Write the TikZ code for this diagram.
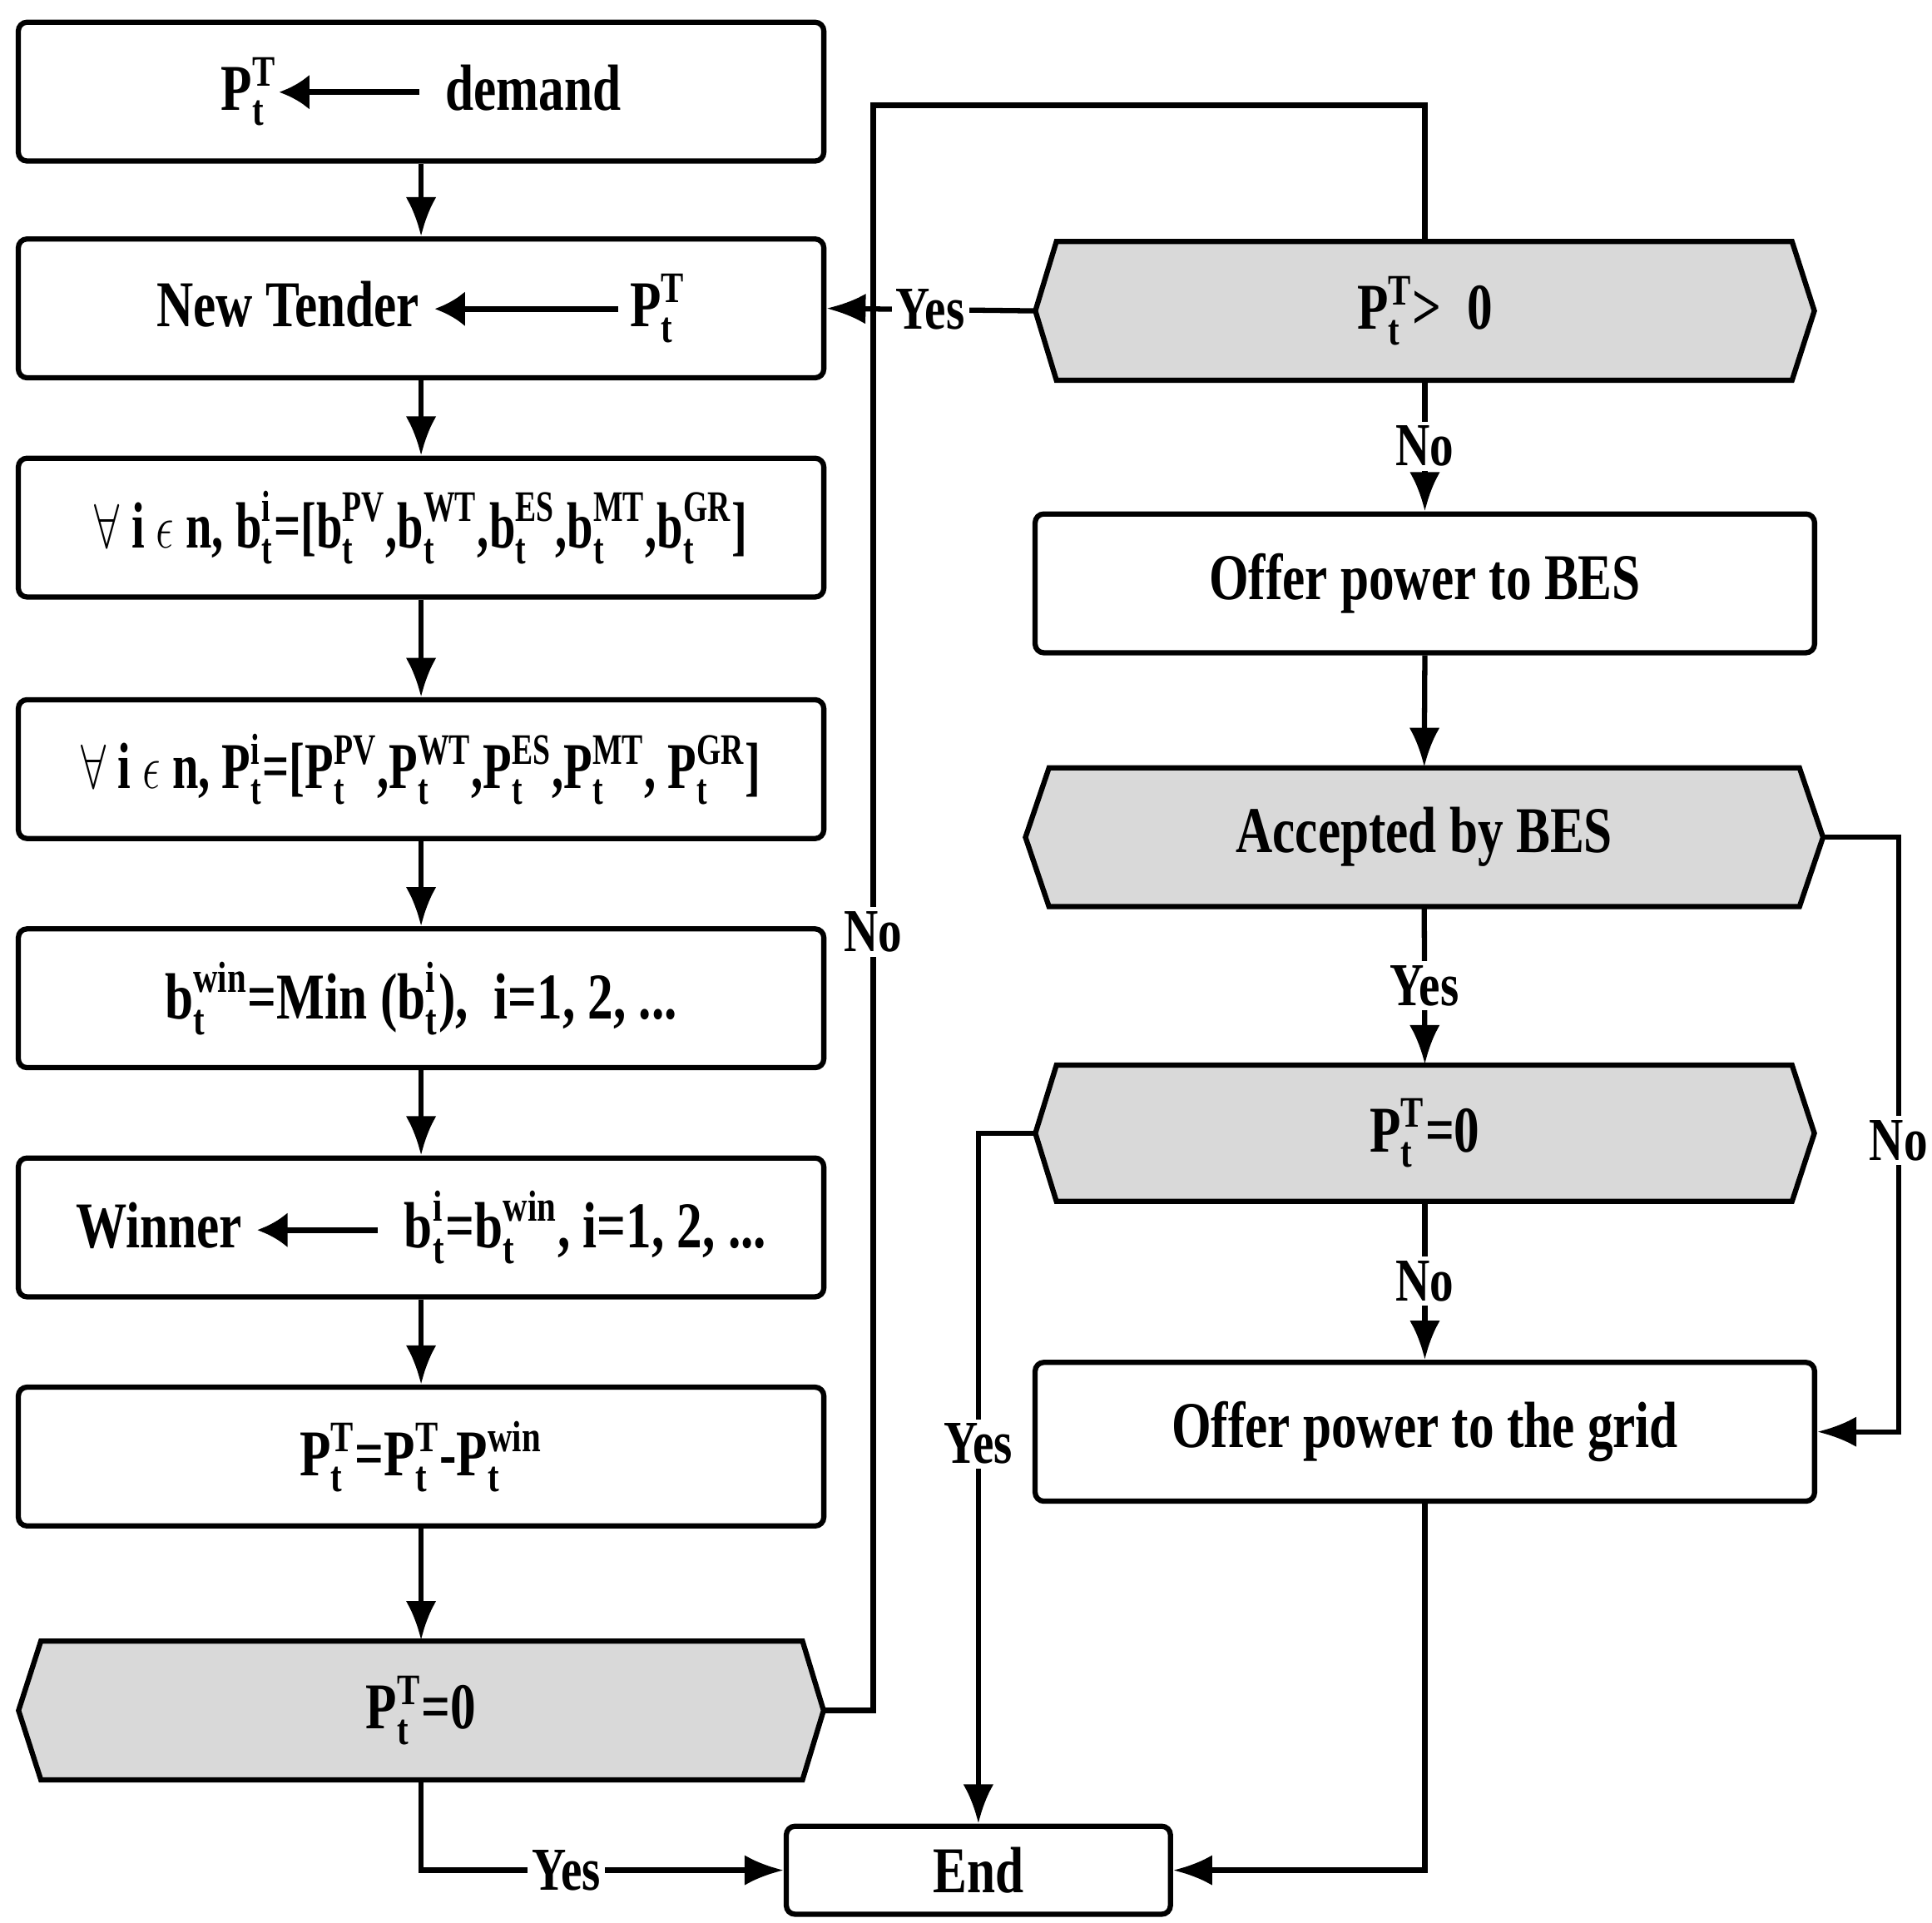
\documentclass[tikz,border=0pt]{standalone}
\usepackage{fontspec}
\setmainfont{Liberation Serif}
\usetikzlibrary{arrows.meta}
\newcommand{\cn}[1]{\scalebox{0.78}[1]{\bfseries #1}}
\newcommand{\cnn}[1]{\scalebox{0.72}[1]{\bfseries #1}}
\newcommand{\sm}[1]{\hbox{\fontsize{10}{10}\selectfont\bfseries #1}}
\newcommand{\vv}[3]{$\textbf{#1}_{\sm{#2}}^{\sm{#3}}$}
\newcommand{\inarrow}[1]{\tikz[baseline=-0.6ex,x=1cm,y=1cm]\draw[line width=1.4pt,-{Latex[length=9pt,width=8pt]}] (0,0)--(-#1,0);}
\begin{document}
\begin{tikzpicture}[x=0.01cm,y=-0.01cm,
  lw/.style={line width=1.2pt},
  box/.style={draw,lw,rounded corners=2pt,minimum width=6.5cm,minimum height=1.12cm,inner sep=0pt,font=\fontsize{15}{18}\selectfont},
  hx/.style={inner sep=0pt,font=\fontsize{15}{18}\selectfont},
  hexfill/.style={draw,lw,fill=gray!30,line join=miter},
  arr/.style={lw,-{Latex[length=9pt,width=7pt]}},
  lab/.style={fill=white,inner sep=1pt,font=\fontsize{14}{16}\selectfont}]
\useasboundingbox (0,0) rectangle (1560,1552);
% left column
\node[box] (b1) at (340,74) {\cn{\vv{P}{t}{T}\inarrow{1.45}\hspace{0.25cm}demand}};
\node[box] (b2) at (340,249) {\cn{New Tender \inarrow{1.9}\hspace{0.1cm}\vv{P}{t}{T}}};
\node[box] (b3) at (340,426) {\cnn{$\forall$ i $\epsilon$ n, \vv{b}{t}{i}=[\vv{b}{t}{PV},\vv{b}{t}{WT},\vv{b}{t}{ES},\vv{b}{t}{MT},\vv{b}{t}{GR}]}};
\node[box] (b4) at (340,621) {\cnn{$\forall$ i $\epsilon$ n, \vv{P}{t}{i}=[\vv{P}{t}{PV},\vv{P}{t}{WT},\vv{P}{t}{ES},\vv{P}{t}{MT}, \vv{P}{t}{GR}]}};
\node[box] (b5) at (340,806) {\cn{\vv{b}{t}{win}=Min (\vv{b}{t}{i}),\ \ i=1, 2, ...}};
\node[box] (b6) at (340,991) {\cn{Winner \inarrow{1.25}\hspace{0.25cm}\vv{b}{t}{i}=\vv{b}{t}{win}, i=1, 2, ...}};
\node[box] (b7) at (340,1176) {\cn{\vv{P}{t}{T}=\vv{P}{t}{T}-\vv{P}{t}{win}}};
\path[hexfill] (15,1381)--(33,1325)--(648,1325)--(665,1381)--(648,1437)--(33,1437)--cycle;
\node[hx,minimum width=6.5cm,minimum height=1.12cm] (h8) at (340,1381) {\cn{\vv{P}{t}{T}=0}};
% right column
\path[hexfill] (836,251)--(853,195)--(1447,195)--(1465,251)--(1447,307)--(853,307)--cycle;
\node[hx,minimum width=6.29cm,minimum height=1.12cm] (h1) at (1150.5,251) {\cn{\vv{P}{t}{T}> \ 0}};
\node[box,minimum width=6.29cm] (r2) at (1150.5,471) {\cn{Offer power to BES}};
\path[hexfill] (828,676)--(847,620)--(1453,620)--(1472,676)--(1453,732)--(847,732)--cycle;
\node[hx,minimum width=6.44cm,minimum height=1.12cm] (h3) at (1150,676) {\cn{Accepted by BES}};
\path[hexfill] (836,915)--(853,860)--(1447,860)--(1465,915)--(1447,970)--(853,970)--cycle;
\node[hx,minimum width=6.29cm,minimum height=1.1cm] (h4) at (1150.5,915) {\cn{\vv{P}{t}{T}=0}};
\node[box,minimum width=6.29cm] (r5) at (1150.5,1156) {\cn{Offer power to the grid}};
\node[box,minimum width=3.1cm,minimum height=0.71cm] (end) at (790,1510) {\cn{End}};
% connectors
\foreach \a/\b in {b1/b2,b2/b3,b3/b4,b4/b5,b5/b6,b6/b7,b7/h8,r2/h3}
  \draw[arr] (\a.south) -- (\b.north);
\draw[arr] (h1.west) -- node[lab]{\cn{Yes}} (b2.east);
\coordinate (c1) at (705,85);
\coordinate (c2) at (1150.5,85);
\draw[lw] (h8.east) -- (705,1381) -- node[lab,pos=0.485]{\cn{No}} (c1) -- (c2) -- (h1.north);
\draw[arr] (h1.south) -- node[lab]{\cn{No}} (r2.north);
\draw[arr] (h3.south) -- node[lab]{\cn{Yes}} (h4.north);
\draw[arr] (h4.south) -- node[lab]{\cn{No}} (r5.north);
\coordinate (c3) at (1533,676);
\coordinate (c4) at (1533,1156);
\draw[arr] (h3.east) -- (c3) -- node[lab,pos=0.51]{\cn{No}} (c4) -- (r5.east);
\coordinate (c5) at (790,915);
\draw[arr] (h4.west) -- (c5) -- node[lab,pos=0.45]{\cn{Yes}} (end.north);
\coordinate (c6) at (1150.5,1510);
\draw[arr] (r5.south) -- (c6) -- (end.east);
\coordinate (c7) at (340,1510);
\draw[arr] (h8.south) -- (c7) -- node[lab,pos=0.4]{\cn{Yes}} (end.west);
\end{tikzpicture}
\end{document}
